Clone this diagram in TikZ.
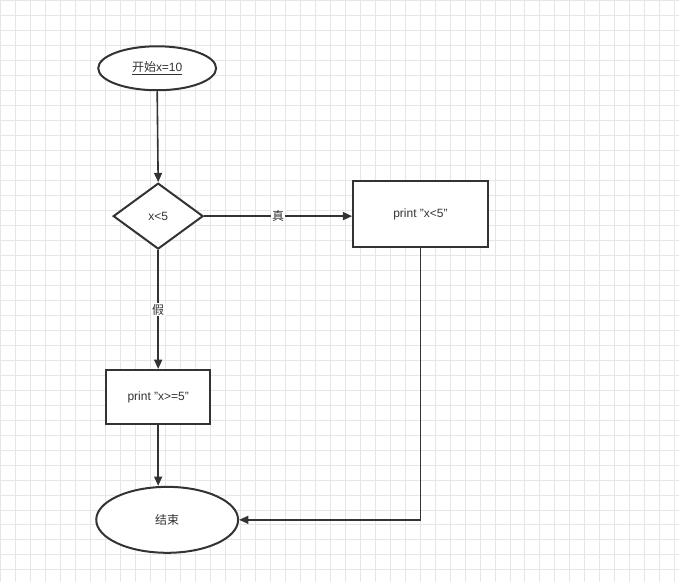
\documentclass[tikz,border=0pt]{standalone}
\usepackage{fontspec}
\setmainfont{Liberation Sans}
\newfontfamily\cjk{Noto Sans CJK SC}
\usetikzlibrary{shapes.geometric,arrows.meta}
\definecolor{ln}{HTML}{333333}
\definecolor{gr}{HTML}{E6E6E6}
\begin{document}
\begin{tikzpicture}[x=0.75pt,y=-0.75pt,
  every node/.style={font=\fontsize{9pt}{11pt}\selectfont,text=ln},
  shp/.style={draw=ln,line width=1.5pt,fill=white,inner sep=0pt},
  conn/.style={draw=ln,line width=1.2pt,-{Triangle[length=7pt,width=6pt]}},
  lbl/.style={fill=white,inner sep=1pt}]
\fill[white] (0,0) rectangle (679,582);
\foreach \i in {0,15,...,675} \draw[gr,line width=0.5pt] (\i,0) -- (\i,582);
\foreach \j in {0,15,...,580} \draw[gr,line width=0.5pt] (0,\j) -- (679,\j);
\useasboundingbox (0,0) rectangle (679,582);
\node[shp,ellipse,minimum width=88.5pt,minimum height=33pt] (s) at (157,68) {\underline{{\cjk 开始}x=10}};
\node[shp,diamond,minimum width=67.5pt,minimum height=49.5pt] (d) at (158,216) {x<5};
\node[shp,rectangle,minimum width=101pt,minimum height=49.5pt] (r1) at (420.5,214) {print \char"22 x<5\char"22};
\node[shp,rectangle,minimum width=78pt,minimum height=40.5pt] (r2) at (158,397) {print \char"22 x>=5\char"22};
\node[shp,ellipse,minimum width=106.5pt,minimum height=49.5pt] (e) at (167,520) {\cjk 结束};
\draw[conn] (s.south) -- (d.north);
\draw[conn] (d.east) -- node[lbl]{\cjk 真} (r1.west|-d.east);
\draw[conn] (d.south) -- node[lbl]{\cjk 假} (r2.north);
\draw[conn] (r2.south) -- (r2.south|-e.north);
\coordinate (k) at (r1.south|-e.east);
\draw[conn] (r1.south) -- (k) -- (e.east);
\end{tikzpicture}
\end{document}
